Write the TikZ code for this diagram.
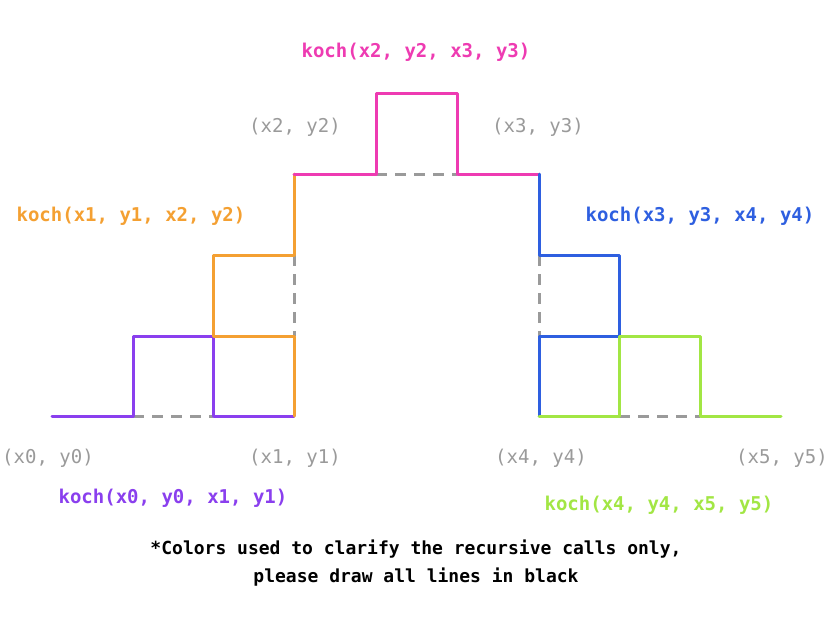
\documentclass[tikz,border=0pt]{standalone}
\usepackage{fontspec}
\setmonofont{DejaVu Sans Mono}
\definecolor{kpur}{HTML}{8A3FEE}
\definecolor{kora}{HTML}{F4A032}
\definecolor{kpink}{HTML}{EE3BB2}
\definecolor{kblue}{HTML}{2E5FE0}
\definecolor{kgreen}{HTML}{A2E644}
\definecolor{kgray}{HTML}{9A9A9A}
\tikzset{
 seg/.style={line width=3pt,line cap=round,line join=round},
 dsh/.style={line width=3pt,kgray,dash pattern=on 11pt off 8pt},
 lab/.style={font=\ttfamily\fontsize{19}{22}\selectfont\bfseries},
 pt/.style={font=\ttfamily\fontsize{19}{22}\selectfont,text=kgray},
 note/.style={font=\ttfamily\fontsize{18}{22}\selectfont\bfseries,text=black}
}
\begin{document}
\begin{tikzpicture}[x=1pt,y=-1pt]
\useasboundingbox[fill=white] (0,0) rectangle (831,619);
% dashed
\draw[dsh] (133,416) -- (213,416);
\draw[dsh] (294,255) -- (294,336);
\draw[dsh] (376,174) -- (457,174);
\draw[dsh] (539,255) -- (539,336);
\draw[dsh] (619,416) -- (700,416);
% curves
\draw[seg,kpur] (52,416) -- (133,416) -- (133,336) -- (213,336) -- (213,416) -- (294,416);
\draw[seg,kora] (294,416) -- (294,336) -- (213,336) -- (213,255) -- (294,255) -- (294,174);
\draw[seg,kpink] (294,174) -- (376,174) -- (376,93) -- (457,93) -- (457,174) -- (539,174);
\draw[seg,kblue] (539,174) -- (539,255) -- (619,255) -- (619,336) -- (539,336) -- (539,416);
\draw[seg,kgreen] (539,416) -- (619,416) -- (619,336) -- (700,336) -- (700,416) -- (781,416);
% labels
\node[lab,text=kpink] (k2) at (416,52) {koch(x2, y2, x3, y3)};
\node[lab,text=kora] (k1) at (131,216) {koch(x1, y1, x2, y2)};
\node[lab,text=kblue] (k3) at (700,216) {koch(x3, y3, x4, y4)};
\node[lab,text=kpur] (k0) at (173,498) {koch(x0, y0, x1, y1)};
\node[lab,text=kgreen] (k4) at (659,505) {koch(x4, y4, x5, y5)};
\node[pt] (p2) at (295,127) {(x2, y2)};
\node[pt] (p3) at (538,127) {(x3, y3)};
\node[pt] (p0) at (48,458) {(x0, y0)};
\node[pt] (p1) at (295,458) {(x1, y1)};
\node[pt] (p4) at (541,458) {(x4, y4)};
\node[pt] (p5) at (782,458) {(x5, y5)};
\node[note] (n1) at (416,549) {*Colors used to clarify the recursive calls only,};
\node[note] (n2) at (416,577) {please draw all lines in black};
\end{tikzpicture}
\end{document}
